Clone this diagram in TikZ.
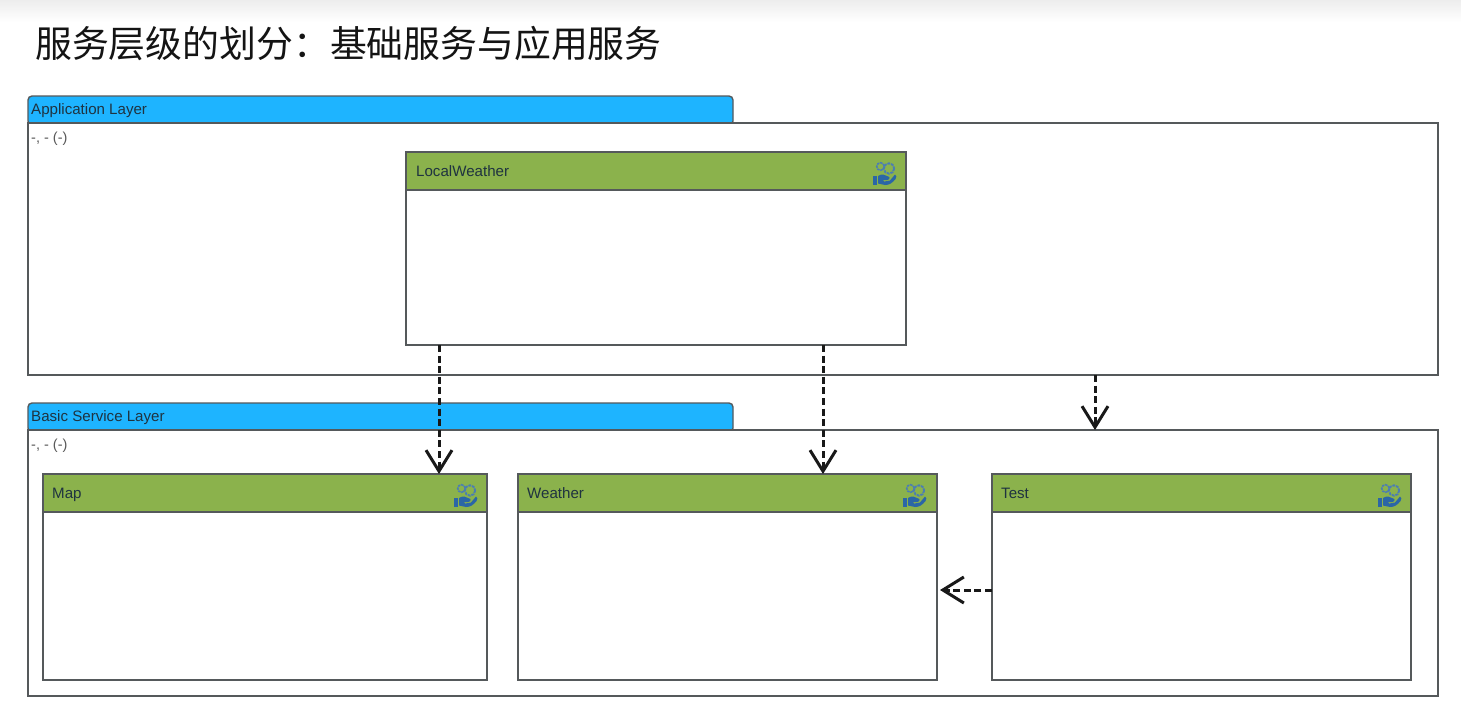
\documentclass[tikz,border=0pt]{standalone}
\usepackage{fontspec}
\setmainfont{Liberation Sans}
\newfontfamily\cjk{Noto Sans CJK SC}
\usetikzlibrary{arrows.meta,positioning}
\definecolor{hdrblue}{HTML}{1EB4FF}
\definecolor{hdrgreen}{HTML}{8BB24C}
\definecolor{edgegray}{HTML}{55595B}
\definecolor{iconblue}{HTML}{2B66A6}
\definecolor{txt}{HTML}{1F3340}
\tikzset{
  x=1pt,y=-1pt,
  laybody/.style={draw=edgegray,line width=1.2pt,fill=white,rectangle,anchor=north west,inner sep=0pt,outer sep=0pt},
  layhead/.style={draw=edgegray,line width=1.4pt,fill=hdrblue,rounded corners=4pt},
  compbody/.style={draw=edgegray,line width=1.2pt,fill=white,rectangle,anchor=north west,inner sep=0pt,outer sep=0pt},
  comphead/.style={draw=edgegray,line width=1.2pt,fill=hdrgreen,rectangle,anchor=north west,inner sep=0pt,outer sep=0pt},
  lbl/.style={font=\fontsize{15.1}{15.1}\selectfont,text=txt,anchor=base west,inner sep=0pt},
  small/.style={font=\fontsize{14.5}{14.5}\selectfont,text=black!65,anchor=base west,inner sep=0pt},
  depend/.style={draw=black!90,line width=3pt,dash pattern=on 7pt off 3.6pt,-{Straight Barb[length=21pt,width=26pt,line width=3pt]}},
  svcicon/.pic={
    \draw[iconblue!85,line width=1.6pt,dash pattern=on 2.6pt off 0.8pt] (-3.5,-6.5) circle[radius=3.8];
    \draw[iconblue!85,line width=1.9pt,dash pattern=on 2.8pt off 0.9pt] (5,-4.5) circle[radius=5.2];
    \fill[iconblue] (-11,2.5) rectangle (-6.8,11.5);
    \fill[iconblue] (-6,3) .. controls (-2,0.5) and (1,1.5) .. (3,3) -- (5.5,4) .. controls (6,7) and (3,7.5) .. (-1,7) -- (0,8.6) -- (6,7.5) -- (11,1.5) .. controls (13,2.5) and (12.5,4.5) .. (11.5,6) .. controls (8,10.5) and (5,12) .. (1,12) -- (-6,10.5) -- cycle;
  }
}
\begin{document}
\begin{tikzpicture}
\useasboundingbox (0,0) rectangle (1461,702);
\fill[white] (0,0) rectangle (1461,702);
\shade[top color=black!7,bottom color=white] (0,0) rectangle (1461,22);

\node[anchor=west,inner sep=0pt,font=\cjk\fontsize{36.85}{36.85}\selectfont,text=black!92] (title) at (35,44) {服务层级的划分：基础服务与应用服务};

% Application layer
\path[layhead] (28,125) -- (28,96) -- (733,96) -- (733,125) -- cycle;
\node[laybody,minimum width=1410pt,minimum height=252pt] (app) at (28,123) {};
\node[lbl] (apptitle) at (31,114) {Application Layer};
\node[small] (appsub) at (31,142.5) {-, - (-)};

% Basic layer
\path[layhead] (28,432) -- (28,403) -- (733,403) -- (733,432) -- cycle;
\node[laybody,minimum width=1410pt,minimum height=266pt] (basic) at (28,430) {};
\node[lbl] (basictitle) at (31,421) {Basic Service Layer};
\node[small] (basicsub) at (31,449.5) {-, - (-)};

% LocalWeather
\node[compbody,minimum width=500pt,minimum height=193pt] (lw) at (406,152) {};
\node[comphead,minimum width=500pt,minimum height=38pt] (lwh) at (406,152) {};
\node[lbl] (lwt) at (416,176.5) {LocalWeather};
\pic at (884,173) {svcicon};

% Map
\node[compbody,minimum width=444pt,minimum height=206pt] (map) at (43,474) {};
\node[comphead,minimum width=444pt,minimum height=38pt] (maph) at (43,474) {};
\node[lbl] (mapt) at (52,498) {Map};
\pic at (465,495) {svcicon};

% Weather
\node[compbody,minimum width=419pt,minimum height=206pt] (weather) at (518,474) {};
\node[comphead,minimum width=419pt,minimum height=38pt] (weatherh) at (518,474) {};
\node[lbl] (weathert) at (527,498) {Weather};
\pic at (914,495) {svcicon};

% Test
\node[compbody,minimum width=419pt,minimum height=206pt] (test) at (992,474) {};
\node[comphead,minimum width=419pt,minimum height=38pt] (testh) at (992,474) {};
\node[lbl] (testt) at (1001,498) {Test};
\pic at (1389,495) {svcicon};

% Connectors
\draw[depend] ([xshift=-217pt]lw.south) -- ([xshift=174pt]map.north);
\draw[depend] ([xshift=167pt]lw.south) -- ([xshift=95.5pt]weather.north);
\draw[depend] ([xshift=362pt]app.south) -- ([xshift=362pt]basic.north);
\draw[depend] ([yshift=-13pt]test.west) -- ([yshift=-13pt,xshift=3pt]weather.east);
\end{tikzpicture}
\end{document}
